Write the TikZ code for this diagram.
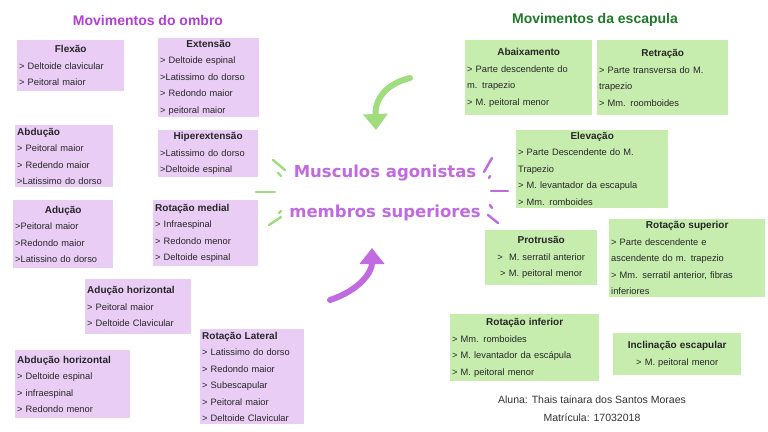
\documentclass[tikz,border=0pt]{standalone}
\usepackage{fontspec}
\setmainfont{Liberation Sans}
\newfontfamily\ctrfont{DejaVu Sans}
\usetikzlibrary{arrows.meta}
\definecolor{pfill}{HTML}{EACDF5}
\definecolor{gfill}{HTML}{C6EDAE}
\definecolor{ptxt}{HTML}{B23FD6}
\definecolor{gtxt}{HTML}{1E7A2A}
\definecolor{garrow}{HTML}{9FDD7E}
\definecolor{parrow}{HTML}{C06BE0}
\tikzset{
 box/.style={anchor=north west,align=left,inner sep=2pt,font=\fontsize{9.3}{16.5}\selectfont,text=black!85},
 pbox/.style={box,fill=pfill},
 gbox/.style={box,fill=gfill},
 ttl/.style={font=\bfseries\fontsize{14}{16}\selectfont},
 ctr/.style={font=\ctrfont\bfseries\fontsize{16.5}{18}\selectfont,text=parrow},
 sp/.style={line width=2.4pt,line cap=round},
}
\newcommand{\hd}[1]{\makebox[\linewidth]{\bfseries\fontsize{10}{12}\selectfont #1}}
\newcommand{\hl}[1]{\textbf{\fontsize{10}{12}\selectfont #1}}
\begin{document}
\begin{tikzpicture}[x=1pt,y=-1pt]
\useasboundingbox[fill=white] (0,0) rectangle (768,431);
\node[ttl,text=ptxt] (t1) at (148,20) {Movimentos do ombro};
\node[ttl,text=gtxt] (t2) at (595,20) {Movimentos da escapula};
% purple boxes
\node[pbox,text width=103pt,minimum height=51pt] (flex) at (17,40) {\hd{Flexão}\\> Deltoide clavicular\\> Peitoral maior};
\node[pbox,text width=97pt,minimum height=78pt] (ext) at (158,38) {\hd{Extensão}\\> Deltoide espinal\\>Latissimo do dorso\\> Redondo maior\\> peitoral maior};
\node[pbox,text width=94pt,minimum height=62pt] (abd) at (15,125) {\hl{Abdução}\\> Peitoral maior\\> Redendo maior\\>Latissimo do dorso};
\node[pbox,text width=96pt,minimum height=47pt] (hip) at (158,130) {\hd{Hiperextensão}\\>Latissimo do dorso\\>Deltoide espinal};
\node[pbox,text width=96pt,minimum height=68pt] (adu) at (13,200) {\hd{Adução}\\>Peitoral maior\\>Redondo maior\\>Latissino do dorso};
\node[pbox,text width=101pt,minimum height=66pt] (rmed) at (153,200) {\hl{Rotação medial}\\> Infraespinal\\> Redondo menor\\> Deltoide espinal};
\node[pbox,text width=102pt,minimum height=55pt] (adh) at (85,279) {\hl{Adução horizontal}\\> Peitoral maior\\> Deltoide Clavicular};
\node[pbox,text width=111pt,minimum height=68pt] (abh) at (15,350) {\hl{Abdução horizontal}\\> Deltoide espinal\\> infraespinal\\> Redondo menor};
\node[pbox,text width=100pt,minimum height=95pt] (rlat) at (200,329) {\hl{Rotação Lateral}\\> Latissimo do dorso\\> Redondo maior\\> Subescapular\\> Peitoral maior\\> Deltoide Clavicular};
% green boxes
\node[gbox,text width=123pt,minimum height=75pt] (abx) at (465,40) {\hd{Abaixamento}\\> Parte descendente  do\\m. trapezio\\> M. peitoral menor};
\node[gbox,text width=127pt,minimum height=75pt] (ret) at (597,40) {\hd{Retração}\\> Parte transversa do M.\\trapezio\\>  Mm. roomboides};
\node[gbox,text width=148pt,minimum height=76pt] (elev) at (516,130) {\hd{Elevação}\\>  Parte  Descendente  do  M.\\Trapezio\\> M. levantador da escapula\\> Mm. romboides};
\node[gbox,text width=152pt,minimum height=78pt] (rsup) at (609,219) {\hd{Rotação superior}\\> Parte  descendente e\\ascendente do m. trapezio\\> Mm. serratil anterior, fibras\\inferiores};
\node[gbox,text width=108pt,minimum height=55pt] (prot) at (485,230) {\hd{Protrusão}\\\makebox[\linewidth]{> \ M. serratil anterior}\\\makebox[\linewidth]{> M. peitoral menor}};
\node[gbox,text width=145pt,minimum height=67pt] (rinf) at (450,314) {\hd{Rotação  inferior}\\> Mm. romboides\\> M. levantador da escápula\\> M. peitoral menor};
\node[gbox,text width=124pt,minimum height=42pt] (incl) at (613,333) {\hd{Inclinação escapular}\\\makebox[\linewidth]{> M. peitoral menor}};
% center
\node[ctr] (c1) at (385,173) {Musculos agonistas};
\node[ctr] (c2) at (385,213) {membros superiores};
% footer
\node[font=\fontsize{10.5}{12}\selectfont,text=black!80] (f1) at (592,400) {Aluna: Thais tainara dos Santos Moraes};
\node[font=\fontsize{10.5}{12}\selectfont,text=black!80] (f2) at (592,418) {Matrícula: 17032018};
% arrows
\draw[garrow,line width=6pt,line cap=round,-{Triangle[length=16pt,width=24pt]}] (410,78) .. controls (385,84) and (375,100) .. (376,130);
\draw[parrow,line width=6pt,line cap=round,-{Triangle[length=16pt,width=24pt]}] (330,300) .. controls (360,290) and (372,272) .. (372,248);
% sparkles left (green)
\draw[garrow,sp] (273,160) -- (285,170);
\draw[garrow,sp] (278,173) -- (281,176);
\draw[garrow,sp] (256,192) -- (275,192);
\draw[garrow,sp] (279,213) -- (281,211);
\draw[garrow,sp] (269,225) -- (281,217);
% sparkles right (purple)
\draw[parrow,sp] (484,172) -- (492,158);
\draw[parrow,sp] (489,178) -- (490,176);
\draw[parrow,sp] (491,191) -- (508,191);
\draw[parrow,sp] (490,205) -- (492,208);
\draw[parrow,sp] (488,215) -- (498,223);
\end{tikzpicture}
\end{document}
